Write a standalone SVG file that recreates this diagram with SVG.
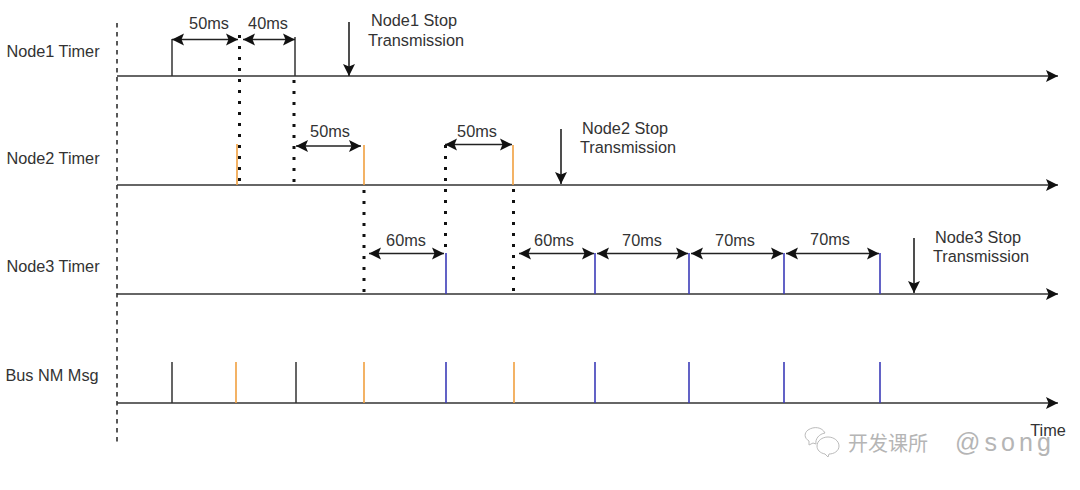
<svg xmlns="http://www.w3.org/2000/svg" width="1080" height="490" viewBox="0 0 1080 490">
<defs>
<marker id="ah" markerUnits="userSpaceOnUse" markerWidth="13" markerHeight="13" refX="12" refY="6.500" orient="auto-start-reverse"><path d="M0 0.500L12 6.500L0 12.500L2.500 6.500Z" fill="#111"/></marker>
</defs>
<style>
text{font-family:"Liberation Sans",Arial,sans-serif;font-size:16.3px;fill:#333}
.ax,.dim,.stop,.blk,.or,.bl,.dot,.dash{fill:none}
.ax{stroke:#333;stroke-width:1.7}
.dim,.stop{stroke:#222;stroke-width:1.6}
.blk{stroke:#333;stroke-width:1.5}
.or{stroke:#f0a040;stroke-width:1.6}
.bl{stroke:#3c3cb8;stroke-width:1.6}
.dot{stroke:#111;stroke-width:3;stroke-dasharray:3 8}
.dash{stroke:#222;stroke-width:1.5;stroke-dasharray:4.500 4.500}
.wm{fill:#b5b5b5;font-size:20px;font-family:"Liberation Sans","Noto Sans CJK SC",sans-serif}
.wl{font-size:25px}
</style>
<rect width="1080" height="490" fill="#fff"/>
<g id="watermark">
<path d="M808 430c6-4 14-3 17 3c-6 1-10 6-9 11l-3-1l-4 2l0-4c-5-3-5-8-1-11z" fill="#fff" stroke="#bbb"/>
<path d="M817 446c0-5 5-9 11-9s11 4 11 9s-5 8-10 8l-1 3l-3-3c-5-1-8-4-8-8z" fill="#fff" stroke="#bbb"/>
<text class="wm" x="848" y="451">开发课所</text>
<text class="wm wl" x="955" y="451" textLength="96">@song</text>
</g>
<g id="connectors">
<path class="dash" d="M117 23V446"/>
<path class="ax" d="M117 76H1058" marker-end="url(#ah)"/>
<path class="ax" d="M117 185H1058" marker-end="url(#ah)"/>
<path class="ax" d="M117 294H1058" marker-end="url(#ah)"/>
<path class="ax" d="M117 403H1058" marker-end="url(#ah)"/>
<path class="blk" d="M172 39V76M295 37V76"/>
<path class="or" d="M237 144V185M364 145V185M513 145V185"/>
<path class="bl" d="M446 253V294M595 253V294M689 253V294M784 253V294M880 253V294"/>
<path class="blk" d="M172 362V403M296 362V403"/>
<path class="or" d="M236 362V403M364 362V403M514 362V403"/>
<path class="bl" d="M446 362V403M595 362V403M689 362V403M784 362V403M880 362V403"/>
<path class="dot" d="M239.500 35V183M294 80V183M364 190V292M445.500 145V250M513.500 189V292"/>
<path class="dim" d="M172 39.500H238" marker-start="url(#ah)" marker-end="url(#ah)"/>
<path class="dim" d="M243 39.500H295" marker-start="url(#ah)" marker-end="url(#ah)"/>
<path class="dim" d="M296 146H361" marker-start="url(#ah)" marker-end="url(#ah)"/>
<path class="dim" d="M445 144.500H512" marker-start="url(#ah)" marker-end="url(#ah)"/>
<path class="dim" d="M369 253.500H444" marker-start="url(#ah)" marker-end="url(#ah)"/>
<path class="dim" d="M519 253.500H594" marker-start="url(#ah)" marker-end="url(#ah)"/>
<path class="dim" d="M597 253.500H688" marker-start="url(#ah)" marker-end="url(#ah)"/>
<path class="dim" d="M691 253.500H783" marker-start="url(#ah)" marker-end="url(#ah)"/>
<path class="dim" d="M786 253.500H879" marker-start="url(#ah)" marker-end="url(#ah)"/>
<path class="stop" d="M349 22V76" marker-end="url(#ah)"/>
<path class="stop" d="M561 129V184" marker-end="url(#ah)"/>
<path class="stop" d="M914 238V293" marker-end="url(#ah)"/>
</g>
<g id="labels">
<text x="53" y="56.500" text-anchor="middle">Node1 Timer</text>
<text x="53" y="163.500" text-anchor="middle">Node2 Timer</text>
<text x="53" y="271.500" text-anchor="middle">Node3 Timer</text>
<text x="52" y="380.500" text-anchor="middle">Bus NM Msg</text>
<text x="209" y="29" text-anchor="middle">50ms</text>
<text x="268" y="29" text-anchor="middle">40ms</text>
<text x="330" y="136.500" text-anchor="middle">50ms</text>
<text x="477" y="136.500" text-anchor="middle">50ms</text>
<text x="406" y="245.500" text-anchor="middle">60ms</text>
<text x="554" y="245.500" text-anchor="middle">60ms</text>
<text x="642" y="245.500" text-anchor="middle">70ms</text>
<text x="735" y="245.500" text-anchor="middle">70ms</text>
<text x="830" y="244.500" text-anchor="middle">70ms</text>
<text x="414" y="25.500" text-anchor="middle">Node1 Stop</text>
<text x="416" y="45.500" text-anchor="middle">Transmission</text>
<text x="625" y="133.500" text-anchor="middle">Node2 Stop</text>
<text x="628" y="152.500" text-anchor="middle">Transmission</text>
<text x="978" y="242.500" text-anchor="middle">Node3 Stop</text>
<text x="981" y="261.500" text-anchor="middle">Transmission</text>
<text x="1048" y="436" text-anchor="middle">Time</text>
</g>
</svg>
